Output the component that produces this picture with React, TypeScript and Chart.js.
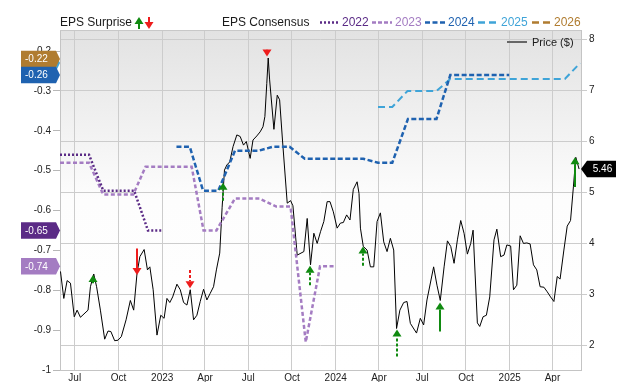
import React, { useEffect, useRef } from "react";
import { Chart, registerables } from "chart.js";

Chart.register(...registerables);

const FONT = "'Liberation Sans', Arial, Helvetica, sans-serif";

// x axis unit: days since 2022-07-01
const START = "2022-07-01";
const dayOf = (iso: string) => Math.round((Date.parse(iso) - Date.parse(START)) / 86400000);

const quarterDates = [
  "2022-07-01", "2022-10-01", "2023-01-01", "2023-04-01", "2023-07-01", "2023-10-01",
  "2024-01-01", "2024-04-01", "2024-07-01", "2024-10-01", "2025-01-01", "2025-04-01",
];
const quarterLabels = ["Jul", "Oct", "2023", "Apr", "Jul", "Oct", "2024", "Apr", "Jul", "Oct", "2025", "Apr"];
const xMinDay = -31;
const xMaxDay = 1065;

const epsTicks = [-1, -0.9, -0.8, -0.7, -0.6, -0.5, -0.4, -0.3, -0.2];
const epsMin = -1;
const epsMax = -0.147;
const priceTicks = [2, 3, 4, 5, 6, 7, 8];
const priceMin = 1.515;
const priceMax = 8.19;

// Price ($), days since 2022-07-01
const priceDays = [
  -30, -23, -16, -9, -1, 5, 12, 28, 33, 40,
  46, 54, 63, 70, 76, 84, 91, 98, 108, 117,
  124, 131, 137, 146, 153, 158, 165, 173, 181, 188,
  194, 200, 206, 215, 222, 229, 236, 243, 250, 257,
  264, 271, 278, 285, 292, 298, 305, 310, 315, 320,
  326, 333, 341, 348, 355, 361, 369, 375, 383, 390,
  396, 400, 404, 407, 410, 419, 426, 431, 437, 447,
  454, 459, 468, 482, 489, 496, 503, 510, 517, 524,
  531, 537, 544, 552, 559, 565, 572, 579, 586, 594,
  598, 601, 607, 615, 622, 629, 636, 643, 650, 657,
  664, 671, 677, 684, 692, 699, 706, 719, 727, 734,
  741, 755, 762, 769, 777, 784, 791, 798, 805, 812,
  819, 826, 833, 838, 847, 852, 859, 866, 873, 882,
  888, 896, 903, 909, 917, 923, 930, 937, 944, 951,
  958, 965, 972, 979, 987, 994, 1001, 1008, 1015, 1021,
  1029, 1036, 1043, 1049, 1054, 1061,
];
const priceValues = [
  3.45, 2.92, 3.27, 3.22, 2.56, 2.69, 2.55, 2.69, 3.15, 3.40,
  3.15, 2.69, 2.12, 2.28, 2.27, 2.09, 2.10, 2.17, 2.50, 2.88,
  2.69, 3.41, 3.74, 3.88, 3.48, 3.54, 3.09, 2.20, 2.59, 2.53,
  2.92, 2.84, 2.95, 3.20, 3.09, 2.84, 2.79, 3.09, 2.50, 2.59,
  2.86, 3.10, 2.89, 3.02, 3.15, 3.48, 3.81, 4.70, 5.44, 5.54,
  5.60, 5.90, 6.13, 6.10, 5.93, 6.00, 5.67, 6.03, 6.11, 6.19,
  6.29, 6.49, 7.14, 7.64, 7.21, 6.24, 6.91, 6.82, 6.03, 4.79,
  4.84, 4.74, 3.77, 3.84, 4.49, 3.58, 4.20, 4.00, 4.23, 4.43,
  4.82, 4.82, 4.62, 4.30, 4.40, 4.41, 4.56, 4.46, 5.06, 5.21,
  4.98, 4.30, 3.94, 3.87, 3.54, 3.54, 4.43, 4.60, 4.03, 3.84,
  4.10, 3.87, 2.33, 2.69, 2.84, 2.86, 2.43, 2.24, 2.53, 2.40,
  2.89, 3.54, 3.18, 2.88, 3.54, 4.05, 3.94, 3.61, 4.07, 4.45,
  4.20, 3.79, 4.00, 4.26, 2.44, 2.37, 2.56, 2.59, 2.95, 4.07,
  4.28, 3.74, 3.77, 3.97, 3.95, 3.09, 3.18, 4.15, 4.00, 4.01,
  3.99, 3.58, 3.48, 3.15, 3.14, 3.05, 2.95, 2.86, 3.35, 3.30,
  3.87, 4.34, 4.45, 5.11, 5.69, 5.46,
];
const lastPrice = 5.46;

// EPS consensus by fiscal year
const c2022Days = [-31, 30, 60, 125, 154, 182];
const c2022Values = [-0.46, -0.46, -0.55, -0.55, -0.65, -0.65];
const c2023Days = [-31, 30, 60, 123, 149, 246, 271, 298, 337, 389, 424, 454, 486, 516, 545];
const c2023Values = [-0.48, -0.48, -0.56, -0.56, -0.49, -0.49, -0.65, -0.65, -0.57, -0.57, -0.59, -0.59, -0.93, -0.74, -0.74];
const c2024Days = [214, 242, 270, 302, 337, 386, 417, 452, 484, 607, 638, 668, 701, 761, 790, 914];
const c2024Values = [-0.44, -0.44, -0.55, -0.55, -0.45, -0.45, -0.44, -0.44, -0.47, -0.47, -0.48, -0.48, -0.37, -0.37, -0.26, -0.26];
const c2025Days = [638, 668, 700, 761, 790, 1031, 1063];
const c2025Values = [-0.34, -0.34, -0.30, -0.30, -0.27, -0.27, -0.23];
const c2026Current = -0.22;

// EPS surprise arrows (on the price axis)
const surpriseDays = [39, 130, 242, 311, 405, 494, 607, 677, 768, 1052];
const surpriseFrom = [3.22, 3.90, 3.48, 4.84, 7.81, 3.18, 3.56, 1.78, 2.27, 5.11];
const surpriseTo = [3.38, 3.38, 3.12, 5.19, 7.67, 3.56, 3.94, 2.31, 2.84, 5.69];
const surpriseDashed = [true, false, true, true, true, true, true, true, false, false];

const COL = {
  y2022: "#5b2b86",
  y2023: "#a47cc2",
  y2024: "#1f62b0",
  y2025: "#3fa4d8",
  y2026: "#b07c30",
  green: "#108a10",
  red: "#ee1c1c",
};

const toPts = (days: number[], vals: number[]) => days.map((d, i) => ({ x: d, y: vals[i] }));

function drawArrow(ctx: CanvasRenderingContext2D, x: number, y0: number, y1: number, color: string, dashed: boolean) {
  const dir = y1 < y0 ? -1 : 1;
  const head = 7;
  ctx.save();
  ctx.strokeStyle = color;
  ctx.fillStyle = color;
  ctx.lineWidth = 2;
  ctx.setLineDash(dashed ? [3, 2] : []);
  const yHeadBase = y1 - dir * head;
  if ((yHeadBase - y0) * dir > 0) {
    ctx.beginPath();
    ctx.moveTo(x, y0);
    ctx.lineTo(x, yHeadBase);
    ctx.stroke();
  }
  ctx.setLineDash([]);
  ctx.beginPath();
  ctx.moveTo(x, y1);
  ctx.lineTo(x - 4.5, yHeadBase);
  ctx.lineTo(x + 4.5, yHeadBase);
  ctx.closePath();
  ctx.fill();
  ctx.restore();
}

function drawTagRight(ctx: CanvasRenderingContext2D, yc: number, color: string, text: string) {
  // tag on the left side, pointing right
  const x0 = 21, x1 = 56, tip = 60, h = 16.5;
  ctx.save();
  ctx.fillStyle = color;
  ctx.beginPath();
  ctx.moveTo(x0, yc - h / 2);
  ctx.lineTo(x1, yc - h / 2);
  ctx.lineTo(tip, yc);
  ctx.lineTo(x1, yc + h / 2);
  ctx.lineTo(x0, yc + h / 2);
  ctx.closePath();
  ctx.fill();
  ctx.fillStyle = "#ffffff";
  ctx.font = `10px ${FONT}`;
  ctx.textBaseline = "middle";
  ctx.textAlign = "left";
  ctx.fillText(text, 25, yc + 0.5);
  ctx.restore();
}

function drawTagLeft(ctx: CanvasRenderingContext2D, tipX: number, yc: number, color: string, text: string) {
  const x0 = tipX + 6, x1 = tipX + 35, h = 16.5;
  ctx.save();
  ctx.fillStyle = color;
  ctx.beginPath();
  ctx.moveTo(tipX, yc);
  ctx.lineTo(x0, yc - h / 2);
  ctx.lineTo(x1, yc - h / 2);
  ctx.lineTo(x1, yc + h / 2);
  ctx.lineTo(x0, yc + h / 2);
  ctx.closePath();
  ctx.fill();
  ctx.fillStyle = "#ffffff";
  ctx.font = `10px ${FONT}`;
  ctx.textBaseline = "middle";
  ctx.textAlign = "center";
  ctx.fillText(text, (x0 + x1) / 2 + 1, yc + 0.5);
  ctx.restore();
}

const decorPlugin = {
  id: "decor",
  beforeDraw(chart: any) {
    const { ctx, chartArea: a } = chart;
    const g = ctx.createLinearGradient(0, a.top, 0, a.bottom);
    g.addColorStop(0, "#e2e2e2");
    g.addColorStop(0.5, "#fdfdfd");
    g.addColorStop(1, "#ffffff");
    ctx.save();
    ctx.fillStyle = g;
    ctx.fillRect(a.left, a.top, a.right - a.left, a.bottom - a.top);
    ctx.restore();
  },
  afterDatasetsDraw(chart: any) {
    const { ctx } = chart;
    const xs = chart.scales.x;
    const ys = chart.scales.y1;
    surpriseDays.forEach((d, i) => {
      const x = Math.round(xs.getPixelForValue(d));
      const y0 = ys.getPixelForValue(surpriseFrom[i]);
      const y1 = ys.getPixelForValue(surpriseTo[i]);
      drawArrow(ctx, x, y0, y1, surpriseTo[i] > surpriseFrom[i] ? COL.green : COL.red, surpriseDashed[i]);
    });
  },
  afterDraw(chart: any) {
    const { ctx, chartArea: a } = chart;
    const ye = chart.scales.y;
    const yp = chart.scales.y1;
    ctx.save();
    // top border
    ctx.strokeStyle = "#c8c8c8";
    ctx.lineWidth = 1;
    ctx.beginPath();
    ctx.moveTo(a.left, a.top + 0.5);
    ctx.lineTo(a.right, a.top + 0.5);
    ctx.stroke();

    // header legend
    ctx.font = `12px ${FONT}`;
    ctx.textBaseline = "middle";
    ctx.textAlign = "left";
    ctx.fillStyle = "#1a1a1a";
    ctx.fillText("EPS Surprise", 60, 23);
    drawArrow(ctx, 139, 29, 17, COL.green, false);
    drawArrow(ctx, 149, 17, 29, COL.red, false);
    ctx.fillStyle = "#1a1a1a";
    ctx.font = `12px ${FONT}`;
    ctx.fillText("EPS Consensus", 222, 23);

    const legendItems = [
      { label: "2022", color: COL.y2022, dash: [2, 2], s0: 320, s1: 338, t: 342 },
      { label: "2023", color: COL.y2023, dash: [4, 2], s0: 372, s1: 392, t: 395 },
      { label: "2024", color: COL.y2024, dash: [5, 2.5], s0: 425, s1: 445, t: 448 },
      { label: "2025", color: COL.y2025, dash: [7, 4], s0: 478, s1: 496, t: 501 },
      { label: "2026", color: COL.y2026, dash: [7, 4], s0: 532, s1: 550, t: 554 },
    ];
    legendItems.forEach((it) => {
      ctx.save();
      ctx.strokeStyle = it.color;
      ctx.lineWidth = 2.5;
      ctx.setLineDash(it.dash);
      ctx.beginPath();
      ctx.moveTo(it.s0, 22.5);
      ctx.lineTo(it.s1, 22.5);
      ctx.stroke();
      ctx.restore();
      ctx.fillStyle = it.color;
      ctx.font = `12px ${FONT}`;
      ctx.textBaseline = "middle";
      ctx.textAlign = "left";
      ctx.fillText(it.label, it.t, 23);
    });

    // price legend inside plot
    ctx.strokeStyle = "#666666";
    ctx.lineWidth = 2;
    ctx.beginPath();
    ctx.moveTo(507, 42);
    ctx.lineTo(527, 42);
    ctx.stroke();
    ctx.fillStyle = "#1a1a1a";
    ctx.font = `11px ${FONT}`;
    ctx.textBaseline = "middle";
    ctx.fillText("Price ($)", 532, 42.5);
    ctx.restore();

    // value tags on left axis
    const last = (v: number[]) => v[v.length - 1];
    drawTagRight(ctx, ye.getPixelForValue(last(c2022Values)), COL.y2022, last(c2022Values).toFixed(2));
    drawTagRight(ctx, ye.getPixelForValue(last(c2023Values)), COL.y2023, last(c2023Values).toFixed(2));
    drawTagRight(ctx, ye.getPixelForValue(last(c2025Values)), COL.y2025, last(c2025Values).toFixed(2));
    drawTagRight(ctx, ye.getPixelForValue(c2026Current), COL.y2026, c2026Current.toFixed(2));
    drawTagRight(ctx, ye.getPixelForValue(last(c2024Values)), COL.y2024, last(c2024Values).toFixed(2));

    // price tag on right
    drawTagLeft(ctx, a.right, yp.getPixelForValue(lastPrice), "#000000", lastPrice.toFixed(2));
  },
};

export default function App() {
  const ref = useRef<HTMLCanvasElement | null>(null);

  useEffect(() => {
    if (!ref.current) return;
    const tickDays = quarterDates.map(dayOf);
    const labelFor = (v: number) => {
      const i = tickDays.indexOf(v);
      return i >= 0 ? quarterLabels[i] : "";
    };
    const fmtEps = (v: number) => (Math.abs(v + 1) < 1e-9 ? "-1" : v.toFixed(1));

    const consensus = (label: string, days: number[], vals: number[], color: string, dash: number[], width: number) => ({
      label,
      data: toPts(days, vals),
      yAxisID: "y",
      borderColor: color,
      borderWidth: width,
      borderDash: dash,
      pointRadius: 0,
      tension: 0,
      fill: false,
      borderCapStyle: "butt" as const,
    });

    const chart = new Chart(ref.current, {
      type: "line",
      data: {
        datasets: [
          consensus("2022", c2022Days, c2022Values, COL.y2022, [2, 2], 2.5),
          consensus("2023", c2023Days, c2023Values, COL.y2023, [4, 2.5], 2.5),
          consensus("2024", c2024Days, c2024Values, COL.y2024, [5, 2.5], 2.5),
          consensus("2025", c2025Days, c2025Values, COL.y2025, [7, 4], 2),
          {
            label: "Price ($)",
            data: toPts(priceDays, priceValues),
            yAxisID: "y1",
            borderColor: "#000000",
            borderWidth: 1,
            pointRadius: 0,
            tension: 0,
            fill: false,
          },
        ],
      },
      options: {
        animation: false,
        responsive: false,
        maintainAspectRatio: false,
        devicePixelRatio: 1,
        layout: { padding: { top: 30, left: 0, right: 0, bottom: 0 } },
        plugins: {
          legend: { display: false },
          tooltip: { enabled: false },
        },
        scales: {
          x: {
            type: "linear",
            min: xMinDay,
            max: xMaxDay,
            afterBuildTicks: (s: any) => {
              s.ticks = tickDays.map((v) => ({ value: v }));
            },
            afterFit: (s: any) => {
              s.height = 12;
            },
            grid: { color: "#cccccc", drawTicks: false },
            border: { display: true, color: "#c4c4c4" },
            ticks: {
              autoSkip: false,
              maxRotation: 0,
              padding: 2,
              color: "#222222",
              font: { size: 10, family: FONT },
              callback: (v: any) => labelFor(Number(v)),
            },
          },
          y: {
            position: "left",
            min: epsMin,
            max: epsMax,
            afterBuildTicks: (s: any) => {
              s.ticks = epsTicks.map((v) => ({ value: v }));
            },
            afterFit: (s: any) => {
              s.width = 60;
            },
            grid: { drawOnChartArea: false, tickLength: 7, color: "#b8b8b8" },
            border: { display: true, color: "#c4c4c4" },
            ticks: {
              padding: 2,
              color: "#222222",
              font: { size: 10, family: FONT },
              callback: (v: any) => fmtEps(Number(v)),
            },
          },
          y1: {
            position: "right",
            min: priceMin,
            max: priceMax,
            afterBuildTicks: (s: any) => {
              s.ticks = priceTicks.map((v) => ({ value: v }));
            },
            afterFit: (s: any) => {
              s.width = 59;
            },
            grid: { drawOnChartArea: true, tickLength: 6, color: "#cccccc" },
            border: { display: true, color: "#c4c4c4" },
            ticks: {
              padding: 2,
              color: "#222222",
              font: { size: 10, family: FONT },
              callback: (v: any) => String(v),
            },
          },
        },
      } as any,
      plugins: [decorPlugin],
    });
    return () => chart.destroy();
  }, []);

  return (
    <div style={{ position: "fixed", left: 0, top: 0, width: 640, height: 382, background: "#ffffff" }}>
      <canvas ref={ref} width={640} height={382} style={{ display: "block", width: 640, height: 382 }} />
    </div>
  );
}
